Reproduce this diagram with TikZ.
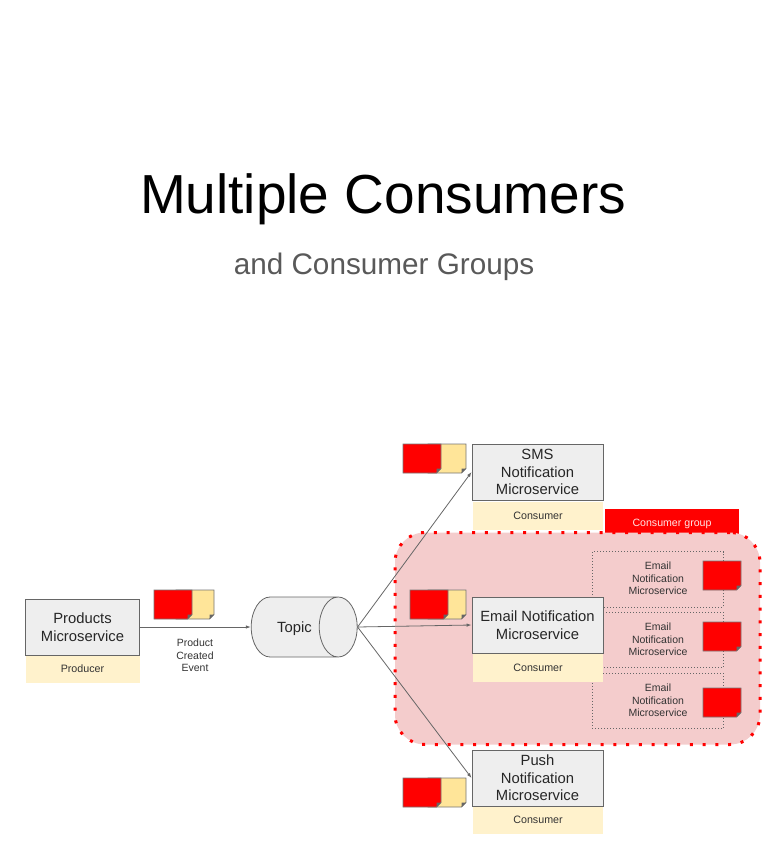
\documentclass[tikz,border=0pt]{standalone}
\usepackage{fontspec}
\setmainfont{Liberation Sans}
\usetikzlibrary{shapes.geometric,arrows.meta}
\definecolor{boxgray}{HTML}{EEEEEE}
\definecolor{linegray}{HTML}{666666}
\definecolor{labelcream}{HTML}{FFF2CC}
\definecolor{notecream}{HTML}{FFE599}
\definecolor{grouppink}{HTML}{F4CCCC}
\definecolor{textgray}{HTML}{595959}
\tikzset{
    svcbox/.style={draw=linegray,line width=0.9pt,fill=boxgray,minimum width=131pt,minimum height=56pt,
        inner sep=0pt,align=center,text=black!85,font=\fontsize{14.8}{17.7}\selectfont},
    rolebox/.style={fill=labelcream,minimum width=130pt,minimum height=28pt,inner sep=0pt,
        text=black!80,font=\fontsize{10.7}{12.5}\selectfont},
    smalltext/.style={inner sep=0pt,align=center,text=black!80,font=\fontsize{10.5}{12.5}\selectfont},
    replicabox/.style={draw=linegray,line width=0.7pt,dash pattern=on 1pt off 2pt,minimum width=131pt,minimum height=55.5pt,inner sep=0pt},
    noteline/.style={draw=linegray!90,line width=0.8pt},
    flow/.style={draw=linegray,line width=0.8pt,-{Latex[length=5pt,width=3.5pt]}},
}
% sticky note: left, top, colour
\newcommand{\stickynote}[3]{
    \draw[noteline,fill=#3] (#1,#2) -- ++(38,0) -- ++(0,24.5) -- ++(-4.5,4.5) -- ++(-33.5,0) -- cycle;
    \fill[linegray] (#1+33.5,#2+29) -- ++(0,-4.5) -- ++(4.5,0) -- cycle;
}
\begin{document}
\begin{tikzpicture}[x=1pt,y=-1pt]
    \useasboundingbox (0,0) rectangle (768,866);
    % title
    \node[inner sep=0pt,font=\fontsize{55}{60}\selectfont] (title) at (383,199) {Multiple Consumers};
    \node[inner sep=0pt,text=textgray,font=\fontsize{29.7}{34}\selectfont] (subtitle) at (384,267) {and Consumer Groups};

    % consumer group
    \node[fill=red,minimum width=134pt,minimum height=29pt,text=white!90!red,inner sep=0pt,
        font=\fontsize{10.6}{12}\selectfont] (grouplabel) at (672,523.5) {Consumer group};
    \node[draw=red,fill=grouppink,rounded corners=30pt,line width=3pt,dash pattern=on 3pt off 9.75pt,
        minimum width=365pt,minimum height=212pt,inner sep=0pt] (group) at (577.5,638.5) {};

    % replicas
    \node[replicabox] (replicaA) at (657.5,579.5) {};
    \node[replicabox] (replicaB) at (657.5,640) {};
    \node[replicabox] (replicaC) at (657.5,701) {};
    \node[smalltext] (replicaAtext) at (658,578.5) {Email\\Notification\\Microservice};
    \node[smalltext] (replicaBtext) at (658,639.5) {Email\\Notification\\Microservice};
    \node[smalltext] (replicaCtext) at (658,700.5) {Email\\Notification\\Microservice};
    \stickynote{703}{561}{red}
    \stickynote{703}{622}{red}
    \stickynote{703}{688}{red}

    % producer
    \node[rolebox,minimum width=114pt] (producer) at (82.5,669) {Producer};
    \node[svcbox,minimum width=114pt] (products) at (82.5,627) {Products\\Microservice};
    \stickynote{176}{590}{notecream}
    \stickynote{154}{590}{red}
    \node[smalltext] (eventtext) at (195,655.5) {Product\\Created\\Event};

    % topic
    \node[cylinder,draw=linegray,line width=0.8pt,fill=boxgray,aspect=2.3,minimum width=60pt,minimum height=106pt,
        inner sep=0pt,text height=14pt,text depth=2.5pt,text=black!85,font=\fontsize{14.8}{17.7}\selectfont] (topic) at (294.5,627) {Topic};

    % consumers
    \node[rolebox] (smsrole) at (538,516) {Consumer};
    \node[svcbox] (sms) at (537.5,472) {SMS\\Notification\\Microservice};
    \stickynote{428}{444}{notecream}
    \stickynote{403}{444}{red}

    \node[rolebox] (emailrole) at (538,668) {Consumer};
    \node[svcbox] (email) at (537.5,625) {Email Notification\\Microservice};
    \stickynote{428}{590}{notecream}
    \stickynote{410}{590}{red}

    \node[rolebox] (pushrole) at (538,820) {Consumer};
    \node[svcbox] (push) at (537.5,778) {Push\\Notification\\Microservice};
    \stickynote{428}{778}{notecream}
    \stickynote{403}{778}{red}

    % connectors
    \draw[flow] (products.east) -- (topic.west);
    \draw[flow] (topic.east) -- (sms.west);
    \draw[flow] (topic.east) -- (email.west);
    \draw[flow] (topic.east) -- (push.west);
\end{tikzpicture}
\end{document}
